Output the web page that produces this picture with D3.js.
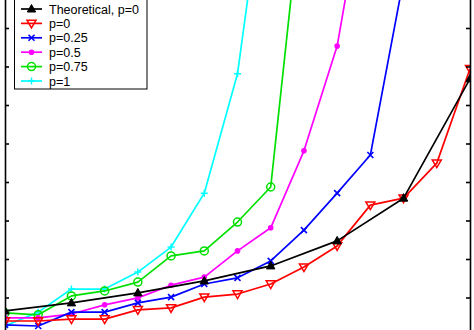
<!DOCTYPE html>
<html>
<head>
<meta charset="utf-8">
<script src="https://cdn.jsdelivr.net/npm/d3@7"></script>
<style>
  html, body { margin: 0; padding: 0; background: #fff; }
  svg { display: block; }
</style>
</head>
<body>
<svg id="chart" width="474" height="330"></svg>
<script>
// ---- data ----
const xIndex = [0,1,2,3,4,5,6,7,8,9,10,11,12,13,14];
const theoX   = [0,2,4,6,8,10,12,14];
const theo    = [0.65,0.86,1.12,1.43,1.82,2.47,3.58,6.68];
const p0      = [0.39,0.39,0.44,0.44,0.68,0.73,1.01,1.09,1.35,1.79,2.34,3.40,3.58,4.49,6.94];
const p025    = [0.29,0.26,0.62,0.62,0.86,1.01,1.35,1.51,1.95,2.75,3.71,4.70,9.27];
const p05     = [0.47,0.47,0.57,0.81,0.99,1.32,1.53,2.21,2.81,4.81,7.53,12.47];
const p075    = [0.60,0.55,1.04,1.17,1.40,2.08,2.21,2.96,3.87,11.9];
const p1      = [0.26,0.62,1.22,1.22,1.66,2.31,3.71,6.81,13.14];
const yTicks  = [1,2,3,4,5,6,7,8,9];
const legendLabels = ["Theoretical, p=0","p=0","p=0.25","p=0.5","p=0.75","p=1"];

(function(){
const svg = d3.select("#chart");
const pLeft = 5, pRight = 470, pTop = -10.5, pBottom = 336;
const x = d3.scaleLinear().domain([0,14]).range([pLeft,pRight]);
const y = d3.scaleLinear().domain([0,9]).range([pBottom,pTop]);

svg.append("defs").append("clipPath").attr("id","clip")
  .append("rect").attr("x",pLeft).attr("y",pTop).attr("width",pRight-pLeft).attr("height",pBottom-pTop);

const series = [
  {name:legendLabels[0], xs:theoX, ys:theo, color:"#000000", marker:"triUp"},
  {name:legendLabels[1], xs:xIndex, ys:p0, color:"#ff0000", marker:"triDown"},
  {name:legendLabels[2], xs:xIndex, ys:p025, color:"#0000ff", marker:"x"},
  {name:legendLabels[3], xs:xIndex, ys:p05, color:"#ff00ff", marker:"dot"},
  {name:legendLabels[4], xs:xIndex, ys:p075, color:"#00e000", marker:"circle"},
  {name:legendLabels[5], xs:xIndex, ys:p1, color:"#00ffff", marker:"plus"}
];

function drawMarker(g, type, cx, cy, color) {
  if (type === "triUp") {
    g.append("path").attr("d",`M${cx},${cy-4.5}L${cx+4.2},${cy+3}L${cx-4.2},${cy+3}Z`)
      .attr("fill",color).attr("stroke",color).attr("stroke-width",1);
  } else if (type === "triDown") {
    g.append("path").attr("d",`M${cx},${cy+4.5}L${cx+4.5},${cy-3.2}L${cx-4.5},${cy-3.2}Z`)
      .attr("fill","none").attr("stroke",color).attr("stroke-width",1.5);
  } else if (type === "x") {
    g.append("path").attr("d",`M${cx-3},${cy-3}L${cx+3},${cy+3}M${cx-3},${cy+3}L${cx+3},${cy-3}`)
      .attr("stroke",color).attr("stroke-width",1.6);
  } else if (type === "dot") {
    g.append("circle").attr("cx",cx).attr("cy",cy).attr("r",2.8).attr("fill",color);
  } else if (type === "circle") {
    g.append("circle").attr("cx",cx).attr("cy",cy).attr("r",4).attr("fill","none")
      .attr("stroke",color).attr("stroke-width",1.5);
  } else if (type === "plus") {
    g.append("path").attr("d",`M${cx-3.5},${cy}L${cx+3.5},${cy}M${cx},${cy-3.5}L${cx},${cy+3.5}`)
      .attr("stroke",color).attr("stroke-width",1.5);
  }
}

const plot = svg.append("g").attr("clip-path","url(#clip)");
const line = d3.line().x(d=>x(d[0])).y(d=>y(d[1]));
series.slice().reverse().forEach(s => {
  const pts = s.ys.map((v,i)=>[s.xs[i], v]);
  plot.append("path").datum(pts).attr("d",line)
    .attr("fill","none").attr("stroke",s.color).attr("stroke-width",1.7)
    .attr("stroke-linejoin","round");
  const mg = plot.append("g");
  pts.forEach(p => drawMarker(mg, s.marker, x(p[0]), y(p[1]), s.color));
});

svg.append("g").attr("transform",`translate(${pLeft},0)`)
  .call(d3.axisRight(y).tickValues(yTicks).tickSize(4).tickSizeOuter(0).tickFormat(""))
  .call(g=>g.selectAll("path,line").attr("stroke","#000").attr("stroke-width",1.6));
svg.append("g").attr("transform",`translate(${pRight},0)`)
  .call(d3.axisLeft(y).tickValues(yTicks).tickSize(4).tickSizeOuter(0).tickFormat(""))
  .call(g=>g.selectAll("path,line").attr("stroke","#000").attr("stroke-width",1.6));

const lg = svg.append("g");
lg.append("rect").attr("x",14.5).attr("y",-1).attr("width",132.5).attr("height",90)
  .attr("fill","#fff").attr("stroke","#000").attr("stroke-width",1);
series.forEach((s,i) => {
  const cy = 9 + i*14.4;
  lg.append("line").attr("x1",21).attr("x2",42).attr("y1",cy).attr("y2",cy)
    .attr("stroke",s.color).attr("stroke-width",1.7);
  drawMarker(lg, s.marker, 31.5, cy, s.color);
  lg.append("text").attr("x",49).attr("y",cy+4.5)
    .attr("font-family","'Liberation Sans', Arial, sans-serif").attr("font-size","12.5px")
    .attr("fill","#000").text(s.name);
});
})();
</script>
</body>
</html>
